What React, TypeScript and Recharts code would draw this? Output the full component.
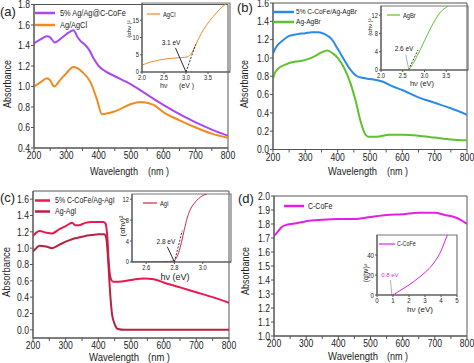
import React from 'react';
import { LineChart, Line, XAxis, YAxis, ReferenceArea, ReferenceLine, ReferenceDot, Legend } from 'recharts';

const FONT = '"Liberation Sans", Arial, sans-serif';
const TXT = '#222';
const AXIS = '#555';
const SX = 0.82; // horizontal squeeze of the reference lettering

// ---------- Panel (a) ----------
const aWlCoFe = [200, 220, 240, 250, 264, 280, 300, 322, 335, 345, 360, 372, 385, 400, 420, 450, 500, 550, 600, 650, 700, 750, 800];
const aAbsCoFe = [1.42, 1.46, 1.49, 1.48, 1.43, 1.46, 1.51, 1.55, 1.48, 1.44, 1.40, 1.35, 1.27, 1.20, 1.15, 1.10, 1.02, 0.92, 0.82, 0.73, 0.65, 0.58, 0.52];
const aWlAgCl = [200, 220, 240, 250, 262, 280, 300, 322, 350, 375, 395, 410, 430, 460, 500, 530, 570, 600, 650, 700, 750, 800];
const aAbsAgCl = [1.00, 1.04, 1.08, 1.06, 1.00, 1.06, 1.13, 1.19, 1.14, 1.04, 0.87, 0.73, 0.74, 0.77, 0.83, 0.85, 0.82, 0.75, 0.67, 0.60, 0.54, 0.50];
const aInsetEv = [2.0, 2.1, 2.2, 2.3, 2.4, 2.5, 2.6, 2.7, 2.8, 2.9, 3.0, 3.05, 3.1, 3.15, 3.2, 3.25, 3.3, 3.4, 3.5, 3.6, 3.7, 3.8, 3.9, 3.93];
const aInsetVal = [2.0, 2.5, 2.9, 3.2, 3.5, 3.7, 3.9, 4.0, 4.1, 4.2, 4.3, 4.5, 5.0, 6.0, 7.3, 8.7, 10.0, 12.3, 14.2, 15.8, 17.3, 18.6, 19.7, 20.0];

// ---------- Panel (b) ----------
const bWlCoFe = [200, 210, 230, 250, 275, 300, 320, 340, 360, 380, 400, 420, 440, 460, 480, 500, 540, 570, 600, 650, 700, 750, 800];
const bAbsCoFe = [1.05, 1.12, 1.19, 1.24, 1.26, 1.27, 1.28, 1.28, 1.26, 1.21, 1.10, 0.98, 0.87, 0.80, 0.78, 0.77, 0.74, 0.69, 0.65, 0.57, 0.51, 0.45, 0.38];
const bWlAgBr = [200, 205, 215, 240, 270, 290, 310, 330, 350, 368, 385, 400, 420, 440, 455, 470, 482, 495, 520, 560, 600, 650, 700, 750, 800];
const bAbsAgBr = [0.77, 0.83, 0.88, 0.93, 0.96, 0.97, 0.99, 1.02, 1.06, 1.08, 1.05, 1.00, 0.89, 0.72, 0.54, 0.32, 0.19, 0.14, 0.14, 0.16, 0.16, 0.15, 0.13, 0.11, 0.10];
const bInsetEv = [2.0, 2.2, 2.4, 2.55, 2.62, 2.66, 2.7, 2.75, 2.8, 2.9, 3.0, 3.1, 3.2, 3.3, 3.4, 3.5, 3.55];
const bInsetVal = [0, 0, 0, 0, 0.05, 0.3, 0.8, 1.6, 2.5, 4.4, 6.4, 8.4, 10.2, 11.8, 13.0, 13.7, 14.0];

// ---------- Panel (c) ----------
const cWlCoFe = [200, 210, 220, 240, 258, 280, 300, 320, 330, 340, 360, 380, 400, 415, 422, 428, 432, 437, 445, 460, 500, 540, 570, 600, 650, 700, 750, 800];
const cAbsCoFe = [1.15, 1.19, 1.21, 1.19, 1.18, 1.23, 1.27, 1.31, 1.28, 1.28, 1.31, 1.32, 1.32, 1.32, 1.30, 1.11, 0.82, 0.64, 0.59, 0.59, 0.61, 0.63, 0.62, 0.58, 0.52, 0.46, 0.40, 0.33];
const cWlAgI = [200, 210, 220, 240, 258, 280, 300, 320, 340, 360, 380, 400, 418, 424, 430, 436, 442, 450, 460, 480, 600, 800];
const cAbsAgI = [0.96, 1.00, 1.03, 1.02, 1.00, 1.04, 1.08, 1.11, 1.13, 1.15, 1.16, 1.17, 1.17, 1.13, 0.86, 0.46, 0.19, 0.07, 0.01, 0.0, 0.0, 0.0];
const cInsetEv = [2.5, 2.6, 2.7, 2.76, 2.79, 2.81, 2.83, 2.85, 2.87, 2.89, 2.91, 2.94, 2.97, 3.0, 3.03];
const cInsetVal = [0, 0.02, 0.05, 0.1, 0.2, 0.6, 1.8, 3.8, 6.2, 8.4, 9.9, 11.2, 12.1, 12.7, 13.0];

// ---------- Panel (d) ----------
const dWl = [200, 210, 225, 240, 270, 300, 350, 400, 450, 500, 550, 600, 650, 700, 730, 760, 780, 800];
const dAbs = [1.715, 1.74, 1.78, 1.795, 1.805, 1.82, 1.83, 1.835, 1.835, 1.85, 1.865, 1.87, 1.88, 1.88, 1.865, 1.85, 1.83, 1.80];
const dInsetEv = [1.1, 1.5, 2.0, 2.5, 3.0, 3.5, 3.8, 4.0, 4.2, 4.4];
const dInsetVal = [1, 5, 10, 16, 22.5, 31, 38, 44, 52, 60];

// ---------- Ticks ----------
const wlTicks = [200, 250, 300, 350, 400, 450, 500, 550, 600, 650, 700, 750, 800];
const aYTicks = [0.4, 0.6, 0.8, 1.0, 1.2, 1.4, 1.6, 1.8];
const bYTicks = [0.0, 0.2, 0.4, 0.6, 0.8, 1.0, 1.2, 1.4, 1.6];
const cYTicks = [0.0, 0.2, 0.4, 0.6, 0.8, 1.0, 1.2, 1.4, 1.6];
const dYTicks = [1.0, 1.1, 1.2, 1.3, 1.4, 1.5, 1.6, 1.7, 1.8, 1.9, 2.0];
const abInsetXTicks = [2.0, 2.5, 3.0, 3.5];
const aInsetYTicks = [0, 5, 10, 15];
const bInsetYTicks = [0, 4, 8, 12];
const cInsetXTicks = [2.6, 2.8, 3.0];
const cInsetYTicks = [0, 4, 8, 12];
const dInsetXTicks = [0, 1, 2, 3, 4, 5];
const dInsetYTicks = [0, 20, 40];

const wlFmt = (v: number) => (Math.round(v) % 100 === 0 ? String(v) : '');
const f1 = (v: number) => v.toFixed(1);
const f0 = (v: number) => String(Math.round(v));

const makeTick = (axis: 'x' | 'y', fmt: (v: number) => string, fs: number) => (props: any) => {
  const { x, y, payload } = props;
  const label = fmt(payload.value);
  if (!label) return <g />;
  return (
    <g transform={`translate(${x},${y}) scale(${SX},1)`}>
      <text x={0} y={0} dy={axis === 'x' ? '0.71em' : '0.355em'} textAnchor={axis === 'x' ? 'middle' : 'end'}
        fontSize={fs} fill={TXT} fontFamily={FONT}>{label}</text>
    </g>
  );
};

type S = { name: string; xs: number[]; ys: number[]; color: string; w: number };
type Leg = { x: number; y: number; rowH: number; lineW: number; fs: number; lw: number; gap: number };
type P = {
  box: { l: number; t: number; r: number; b: number };
  yw: number; mt: number; mr: number; xh: number;
  xDomain: [number, number]; yDomain: [number, number];
  xTicks: number[]; yTicks: number[];
  xFmt: (v: number) => string; yFmt: (v: number) => string;
  fs: number; ts: number; series: S[]; leg: Leg; frame: string; frameW: number;
  children?: React.ReactNode;
};

function Plot(p: P) {
  const w = p.yw + (p.box.r - p.box.l) + p.mr;
  const h = p.mt + (p.box.b - p.box.t) + p.xh;
  const left = p.box.l - p.yw;
  const top = p.box.t - p.mt;
  const LegendContent = (props: any) => (
    <div style={{ fontFamily: FONT, fontSize: p.leg.fs, color: TXT }}>
      {(props.payload || []).map((e: any, i: number) => (
        <div key={i} style={{ display: 'flex', alignItems: 'center', height: p.leg.rowH, whiteSpace: 'nowrap', lineHeight: 1 }}>
          <svg width={p.leg.lineW} height={p.leg.rowH} style={{ display: 'block', flex: 'none' }}>
            <line x1={0} x2={p.leg.lineW} y1={p.leg.rowH / 2} y2={p.leg.rowH / 2} stroke={e.color} strokeWidth={p.leg.lw} />
          </svg>
          <span style={{ marginLeft: p.leg.gap, display: 'inline-block', transform: `scaleX(${SX})`, transformOrigin: 'left center' }}>{e.value}</span>
        </div>
      ))}
    </div>
  );
  return (
    <div style={{ position: 'absolute', left, top, width: w, height: h }}>
      <LineChart width={w} height={h} margin={{ top: p.mt, right: p.mr, bottom: 0, left: 0 }}>
        <XAxis type="number" dataKey="x" domain={p.xDomain} ticks={p.xTicks} interval={0}
          allowDataOverflow height={p.xh} tick={makeTick('x', p.xFmt, p.fs)} tickSize={p.ts} tickMargin={1} stroke={AXIS} />
        <YAxis type="number" domain={p.yDomain} ticks={p.yTicks} interval={0}
          allowDataOverflow width={p.yw} tick={makeTick('y', p.yFmt, p.fs)} tickSize={p.ts} tickMargin={1} stroke={AXIS} />
        <ReferenceArea x1={p.xDomain[0]} x2={p.xDomain[1]} y1={p.yDomain[0]} y2={p.yDomain[1]}
          fill="none" stroke={p.frame} strokeWidth={p.frameW} ifOverflow="visible" />
        {p.series.map((s) => (
          <Line key={s.name} data={s.xs.map((x, i) => ({ x, y: s.ys[i] }))} dataKey="y" name={s.name}
            type="monotone" stroke={s.color} strokeWidth={s.w} dot={false} activeDot={false}
            isAnimationActive={false} legendType="plainline" />
        ))}
        {p.children}
        <Legend layout="vertical" align="center" verticalAlign="middle" content={LegendContent}
          wrapperStyle={{ left: p.leg.x - left, top: p.leg.y - top - p.leg.rowH / 2, width: 'auto', height: 'auto' }} />
      </LineChart>
    </div>
  );
}

const PURPLE = '#a848f2';
const ORANGE = '#f28a22';
const BLUE = '#2a8ae8';
const GREEN = '#5ec22c';
const RED1 = '#e8194e';
const RED2 = '#b82242';
const MAGENTA = '#e41ee4';

const annot = (v: string, size: number, color = TXT) => ({ value: v, position: 'center' as const, fontSize: size, fill: color, fontFamily: FONT });

export default function App() {
  return (
    <div style={{ position: 'fixed', left: 0, top: 0, width: 474, height: 363, background: '#fff', overflow: 'hidden' }}>
      {/* (a) main */}
      <Plot box={{ l: 34, t: 4.5, r: 228, b: 148 }} yw={34} mt={4.5} mr={10} xh={22}
        xDomain={[200, 800]} yDomain={[0.4, 1.8]} xTicks={wlTicks} yTicks={aYTicks} xFmt={wlFmt} yFmt={f1}
        fs={10.5} ts={3} frame={AXIS} frameW={1}
        series={[
          { name: '5% Ag/Ag@C-CoFe', xs: aWlCoFe, ys: aAbsCoFe, color: PURPLE, w: 2 },
          { name: 'Ag/AgCl', xs: aWlAgCl, ys: aAbsAgCl, color: ORANGE, w: 2 },
        ]}
        leg={{ x: 35, y: 13, rowH: 12, lineW: 20, fs: 9, lw: 2.5, gap: 5 }} />
      {/* (b) main */}
      <Plot box={{ l: 273, t: 3, r: 467, b: 149.5 }} yw={34} mt={3} mr={10} xh={22}
        xDomain={[200, 800]} yDomain={[0, 1.6]} xTicks={wlTicks} yTicks={bYTicks} xFmt={wlFmt} yFmt={f1}
        fs={10.5} ts={3} frame={AXIS} frameW={1}
        series={[
          { name: '5% C-CoFe/Ag-AgBr', xs: bWlCoFe, ys: bAbsCoFe, color: BLUE, w: 2 },
          { name: 'Ag-AgBr', xs: bWlAgBr, ys: bAbsAgBr, color: GREEN, w: 2 },
        ]}
        leg={{ x: 273, y: 12, rowH: 10, lineW: 21, fs: 8, lw: 2.5, gap: 2 }} />
      {/* (c) main */}
      <Plot box={{ l: 33, t: 191, r: 229, b: 338 }} yw={33} mt={6} mr={10} xh={22}
        xDomain={[200, 800]} yDomain={[-0.1, 1.7]} xTicks={wlTicks} yTicks={cYTicks} xFmt={wlFmt} yFmt={f1}
        fs={10.5} ts={3} frame={AXIS} frameW={1}
        series={[
          { name: '5% C-CoFe/Ag-AgI', xs: cWlCoFe, ys: cAbsCoFe, color: RED1, w: 2 },
          { name: 'Ag-AgI', xs: cWlAgI, ys: cAbsAgI, color: RED2, w: 2 },
        ]}
        leg={{ x: 35, y: 200, rowH: 11, lineW: 15, fs: 8.5, lw: 2.5, gap: 5 }} />
      {/* (d) main */}
      <Plot box={{ l: 274, t: 196, r: 467, b: 336 }} yw={34} mt={9} mr={10} xh={22}
        xDomain={[200, 800]} yDomain={[1.0, 2.0]} xTicks={wlTicks} yTicks={dYTicks} xFmt={wlFmt} yFmt={f1}
        fs={10.5} ts={3} frame={AXIS} frameW={1}
        series={[{ name: 'C-CoFe', xs: dWl, ys: dAbs, color: MAGENTA, w: 2 }]}
        leg={{ x: 284, y: 206, rowH: 12, lineW: 20, fs: 8.5, lw: 2.5, gap: 4 }} />

      {/* (a) inset */}
      <Plot box={{ l: 142, t: 3, r: 230, b: 72 }} yw={10} mt={3} mr={2} xh={10}
        xDomain={[2.0, 4.0]} yDomain={[0, 20]} xTicks={abInsetXTicks} yTicks={aInsetYTicks} xFmt={f1} yFmt={f0}
        fs={7} ts={2} frame="#777" frameW={1.2}
        series={[{ name: 'AgCl', xs: aInsetEv, ys: aInsetVal, color: ORANGE, w: 1 }]}
        leg={{ x: 147, y: 14, rowH: 8, lineW: 13, fs: 7, lw: 1.2, gap: 3 }}>
        <ReferenceLine segment={[{ x: 3.0, y: 0 }, { x: 3.22, y: 8 }]} stroke="#111" strokeDasharray="2 1.5" strokeWidth={0.9} />
        <ReferenceLine segment={[{ x: 2.76, y: 7 }, { x: 3.0, y: 0 }]} stroke="#111" strokeWidth={0.9} />
        <ReferenceDot x={2.66} y={8.6} r={0} fill="none" stroke="none" label={annot('3.1 eV', 6.5)} />
      </Plot>
      {/* (b) inset */}
      <Plot box={{ l: 381, t: 6, r: 468, b: 70 }} yw={10} mt={3} mr={2} xh={10}
        xDomain={[2.0, 4.0]} yDomain={[0, 14]} xTicks={abInsetXTicks} yTicks={bInsetYTicks} xFmt={f1} yFmt={f0}
        fs={7} ts={2} frame="#777" frameW={1.2}
        series={[{ name: 'AgBr', xs: bInsetEv, ys: bInsetVal, color: GREEN, w: 1 }]}
        leg={{ x: 387, y: 15, rowH: 8, lineW: 13, fs: 7, lw: 1.2, gap: 3 }}>
        <ReferenceLine segment={[{ x: 2.63, y: 0 }, { x: 2.85, y: 4.4 }]} stroke="#222" strokeDasharray="2 1.5" strokeWidth={0.9} />
        <ReferenceLine segment={[{ x: 2.57, y: 3.4 }, { x: 2.64, y: 0 }]} stroke="#999" strokeWidth={0.8} />
        <ReferenceDot x={2.53} y={4.6} r={0} fill="none" stroke="none" label={annot('2.6 eV', 6.5)} />
      </Plot>
      {/* (c) inset */}
      <Plot box={{ l: 132, t: 194, r: 231, b: 262 }} yw={10} mt={3} mr={2} xh={10}
        xDomain={[2.5, 3.2]} yDomain={[0, 13]} xTicks={cInsetXTicks} yTicks={cInsetYTicks} xFmt={f1} yFmt={f0}
        fs={7} ts={2} frame="#777" frameW={1.2}
        series={[{ name: 'AgI', xs: cInsetEv, ys: cInsetVal, color: '#d02848', w: 1 }]}
        leg={{ x: 143, y: 203, rowH: 8, lineW: 14, fs: 7, lw: 1.2, gap: 3 }}>
        <ReferenceLine segment={[{ x: 2.8, y: 0 }, { x: 2.855, y: 6 }]} stroke="#222" strokeDasharray="2 1.5" strokeWidth={0.9} />
        <ReferenceLine segment={[{ x: 2.75, y: 2.9 }, { x: 2.8, y: 0 }]} stroke="#111" strokeWidth={0.9} />
        <ReferenceDot x={2.74} y={3.9} r={0} fill="none" stroke="none" label={annot('2.8 eV', 6.5)} />
      </Plot>
      {/* (d) inset */}
      <Plot box={{ l: 377, t: 235, r: 457, b: 295 }} yw={10} mt={3} mr={2} xh={10}
        xDomain={[0, 5]} yDomain={[0, 60]} xTicks={dInsetXTicks} yTicks={dInsetYTicks} xFmt={f0} yFmt={f0}
        fs={7.5} ts={2} frame="#777" frameW={1.2}
        series={[{ name: 'C-CoFe', xs: dInsetEv, ys: dInsetVal, color: MAGENTA, w: 1 }]}
        leg={{ x: 379, y: 244, rowH: 8, lineW: 16, fs: 6.5, lw: 1.2, gap: 2 }}>
        <ReferenceLine segment={[{ x: 0.9, y: 0 }, { x: 1.15, y: 1.5 }]} stroke={MAGENTA} strokeDasharray="1 1" strokeWidth={0.9} />
        <ReferenceLine segment={[{ x: 0.84, y: 15 }, { x: 0.93, y: 0 }]} stroke="#999" strokeWidth={0.8} />
        <ReferenceDot x={0.81} y={20} r={0} fill="none" stroke="none" label={annot('0.8 eV', 6, MAGENTA)} />
      </Plot>

      {/* titles / labels */}
      <svg width={474} height={363} style={{ position: 'absolute', left: 0, top: 0, pointerEvents: 'none' }} fontFamily={FONT} fill={TXT}>
        <text x={0} y={16} fontSize={13}>(a)</text>
        <text x={237} y={12} fontSize={13}>(b)</text>
        <text x={0} y={202} fontSize={13}>(c)</text>
        <text x={238} y={203} fontSize={13}>(d)</text>

        <text transform="translate(11,84) rotate(-90)" textAnchor="middle" fontSize={11.5} textLength={48} lengthAdjust="spacingAndGlyphs">Absorbance</text>
        <text transform="translate(248,84) rotate(-90)" textAnchor="middle" fontSize={11.5} textLength={48} lengthAdjust="spacingAndGlyphs">Absorbance</text>
        <text transform="translate(10,272) rotate(-90)" textAnchor="middle" fontSize={11.5} textLength={50} lengthAdjust="spacingAndGlyphs">Absorbance</text>
        <text transform="translate(249,271) rotate(-90)" textAnchor="middle" fontSize={11.5} textLength={48} lengthAdjust="spacingAndGlyphs">Absorbance</text>

        <text x={90} y={175} fontSize={11.5} textLength={48} lengthAdjust="spacingAndGlyphs">Wavelength</text>
        <text x={148} y={175} fontSize={11.5} textLength={21} lengthAdjust="spacingAndGlyphs">(nm )</text>
        <text x={328} y={175} fontSize={11.5} textLength={49} lengthAdjust="spacingAndGlyphs">Wavelength</text>
        <text x={387} y={175} fontSize={11.5} textLength={21} lengthAdjust="spacingAndGlyphs">(nm )</text>
        <text x={89} y={361} fontSize={11.5} textLength={50} lengthAdjust="spacingAndGlyphs">Wavelength</text>
        <text x={148} y={361} fontSize={11.5} textLength={22} lengthAdjust="spacingAndGlyphs">(nm )</text>
        <text x={328} y={360} fontSize={11.5} textLength={50} lengthAdjust="spacingAndGlyphs">Wavelength</text>
        <text x={387} y={360} fontSize={11.5} textLength={21} lengthAdjust="spacingAndGlyphs">(nm )</text>

        <text x={160} y={88} fontSize={7}>hν</text>
        <text x={179} y={88} fontSize={7}>(eV )</text>
        <text x={422} y={86} fontSize={7.5} textAnchor="middle">hν (eV)</text>
        <text x={175} y={280} fontSize={9} textAnchor="middle">hν (eV)</text>
        <text x={420} y={312} fontSize={8} textAnchor="middle">hν (eV)</text>

        <text transform="translate(131,29) rotate(-90)" textAnchor="middle" fontSize={6}>(αhν )²</text>
        <text transform="translate(372,27) rotate(-90)" textAnchor="middle" fontSize={6}>(αhν )²</text>
        <text transform="translate(125,226) rotate(-90)" textAnchor="middle" fontSize={8}>(αhν)²</text>
        <text transform="translate(368,273) rotate(-90)" textAnchor="middle" fontSize={7}>(αhν)²</text>
      </svg>
    </div>
  );
}
